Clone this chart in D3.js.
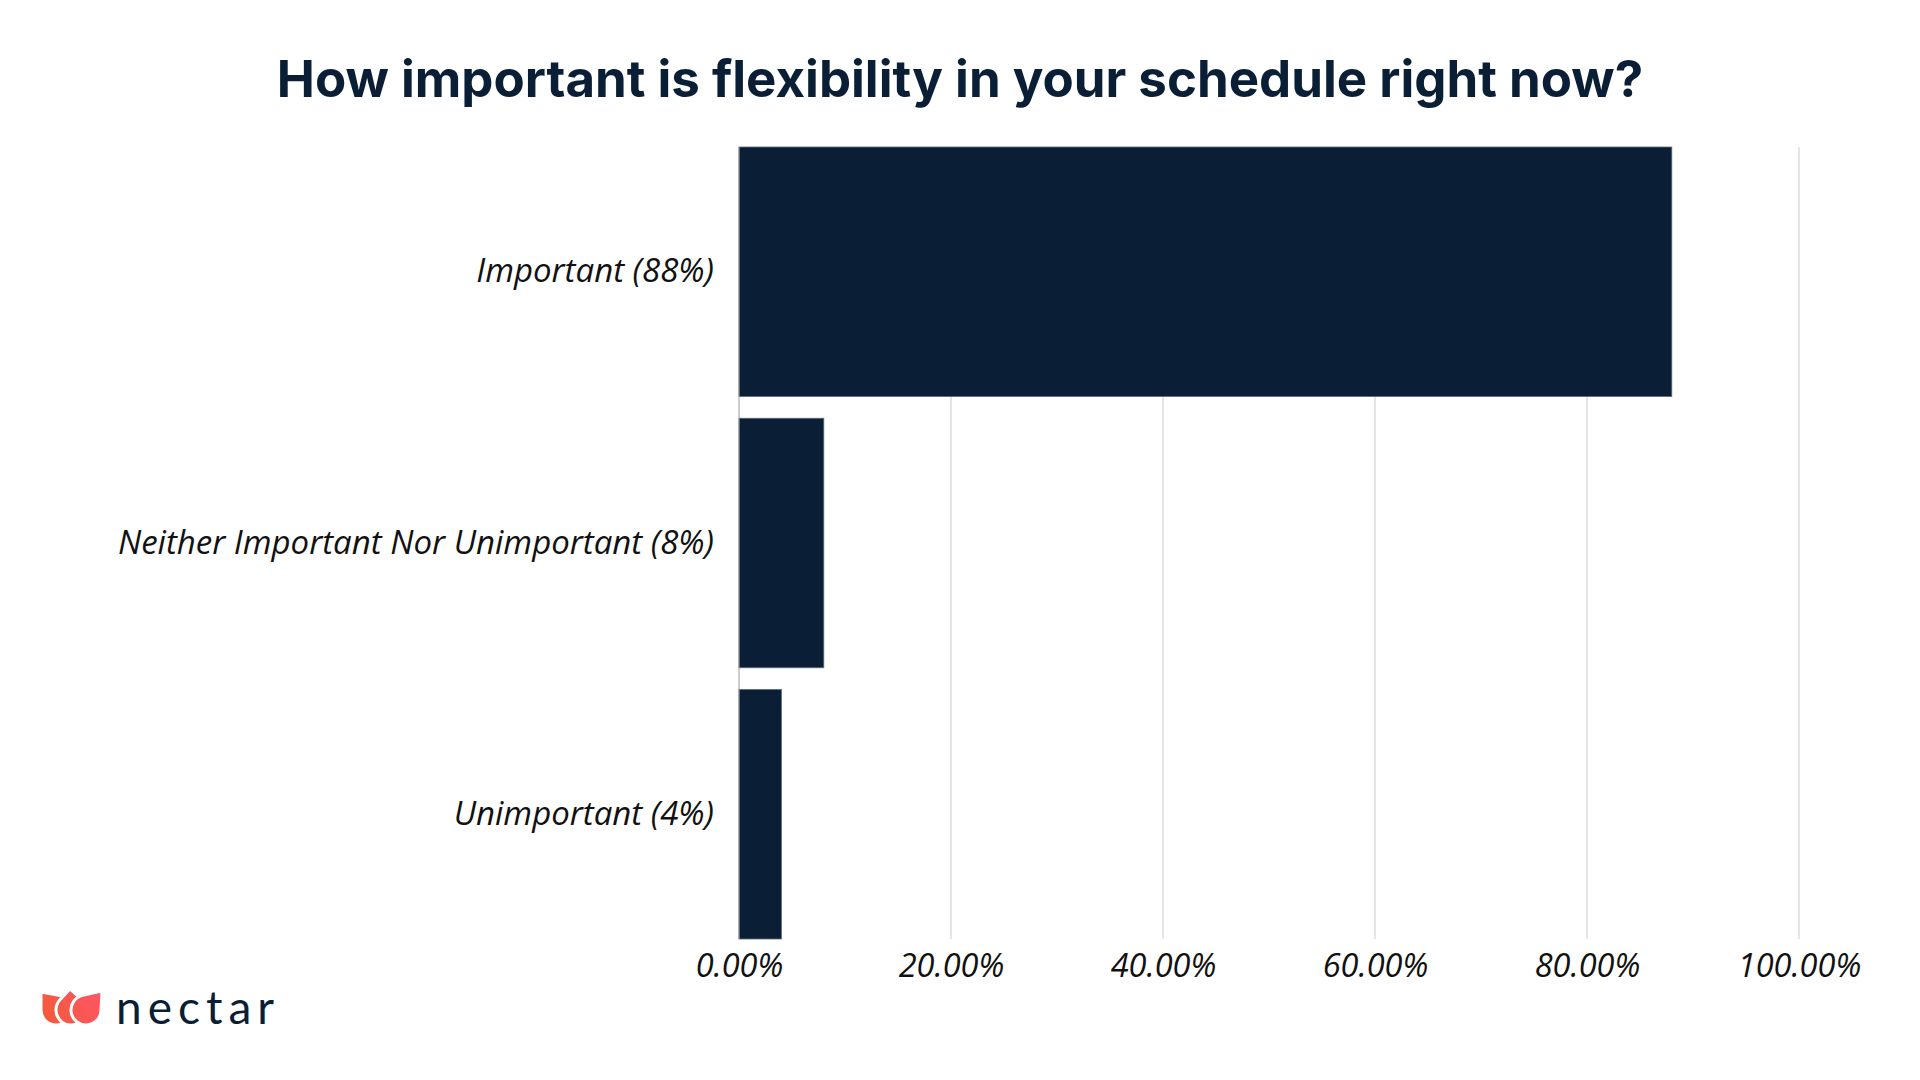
<!DOCTYPE html>
<html>
<head>
<meta charset="utf-8">
<script src="https://cdn.jsdelivr.net/npm/d3@7"></script>
<style>
  html, body { margin: 0; padding: 0; background: #fff; }
  svg { display: block; }
</style>
</head>
<body>
<svg></svg>
<script>
const categories = ["Important (88%)", "Neither Important Nor Unimportant (8%)", "Unimportant (4%)"];
const shares = [0.88, 0.08, 0.04];
const xTicks = [0, 0.2, 0.4, 0.6, 0.8, 1.0];
const title = "How important is flexibility in your schedule right now?";

const width = 1920,
      height = 1080,
      margin = { top: 147, right: 121, bottom: 141, left: 739 };

const navy = "#0a1f35";

const x = d3.scaleLinear()
      .domain([0, 1])
      .range([margin.left, width - margin.right]);

const y = d3.scaleBand()
      .domain(categories)
      .range([margin.top, height - margin.bottom])
      .paddingInner(0.08)
      .paddingOuter(0);

const svg = d3.select("svg")
      .attr("width", width)
      .attr("height", height)
      .attr("viewBox", [0, 0, width, height]);

// title
svg.append("text")
    .attr("x", width / 2)
    .attr("y", 97)
    .attr("text-anchor", "middle")
    .attr("fill", navy)
    .attr("font-family", "Inter, 'Noto Sans', sans-serif")
    .attr("font-weight", 700)
    .attr("font-size", 51)
    .text(title);

// gridlines
svg.append("g")
    .selectAll("line")
    .data(xTicks.slice(1))
    .join("line")
      .attr("x1", d => x(d))
      .attr("x2", d => x(d))
      .attr("y1", margin.top)
      .attr("y2", height - margin.bottom)
      .attr("stroke", "#cccccc")
      .attr("stroke-width", 1);

// bars
svg.append("g")
    .selectAll("rect")
    .data(shares)
    .join("rect")
      .attr("x", x(0))
      .attr("y", (d, i) => y(categories[i]))
      .attr("width", d => x(d) - x(0))
      .attr("height", y.bandwidth())
      .attr("fill", navy)
      .attr("stroke", "#5f6b7a")
      .attr("stroke-width", 0.8);

// left axis line
svg.append("line")
    .attr("x1", x(0))
    .attr("x2", x(0))
    .attr("y1", margin.top)
    .attr("y2", height - margin.bottom)
    .attr("stroke", "#9a9a9a")
    .attr("stroke-width", 1);

// x axis labels
const xAxis = d3.axisBottom(x)
      .tickValues(xTicks)
      .tickFormat(d3.format(".2%"))
      .tickSize(0)
      .tickPadding(15);

svg.append("g")
    .attr("transform", `translate(0,${height - margin.bottom})`)
    .call(xAxis)
    .call(g => g.select(".domain").remove())
    .call(g => g.selectAll("text")
        .attr("fill", "#111")
        .attr("font-family", "'Open Sans', sans-serif")
        .attr("font-style", "italic")
        .attr("font-size", 32.5));

// y axis labels
const yAxis = d3.axisLeft(y)
      .tickSize(0)
      .tickPadding(25);

svg.append("g")
    .attr("transform", `translate(${margin.left},0)`)
    .call(yAxis)
    .call(g => g.select(".domain").remove())
    .call(g => g.selectAll("text")
        .attr("fill", "#111")
        .attr("font-family", "'Open Sans', sans-serif")
        .attr("font-style", "italic")
        .attr("font-size", 33));

// nectar logo
const logo = svg.append("g").attr("class", "logo");
const grad = svg.append("defs").append("linearGradient")
      .attr("id", "petal")
      .attr("gradientUnits", "userSpaceOnUse")
      .attr("x1", 40).attr("y1", 1025)
      .attr("x2", 102).attr("y2", 990);
grad.append("stop").attr("offset", "0%").attr("stop-color", "#f15b35");
grad.append("stop").attr("offset", "100%").attr("stop-color", "#ff5568");

// teardrop: round body (cx, cy, r) with a pointed tip at (tx, ty)
function petal(cx, cy, r, tx, ty) {
  const a = Math.atan2(ty - cy, tx - cx);
  const b = Math.acos(r / Math.hypot(tx - cx, ty - cy));
  const p = d3.path();
  p.moveTo(tx, ty);
  p.lineTo(cx + r * Math.cos(a + b), cy + r * Math.sin(a + b));
  p.arc(cx, cy, r, a + b, a - b + 2 * Math.PI, false);
  p.closePath();
  return p.toString();
}

logo.selectAll("path")
    .data([[56, 1010, 15, 41, 992], [71, 1010, 15, 70, 989], [86, 1010, 15, 102, 991]])
    .join("path")
      .attr("d", d => petal(...d))
      .attr("fill", "url(#petal)")
      .attr("stroke", "#fff")
      .attr("stroke-width", 3)
      .attr("stroke-linejoin", "round");

logo.append("text")
    .attr("x", 116)
    .attr("y", 1024)
    .attr("fill", navy)
    .attr("font-family", "Lato, 'Open Sans', sans-serif")
    .attr("font-weight", 400)
    .attr("font-size", 46)
    .attr("letter-spacing", 6)
    .text("nectar");
</script>
</body>
</html>
